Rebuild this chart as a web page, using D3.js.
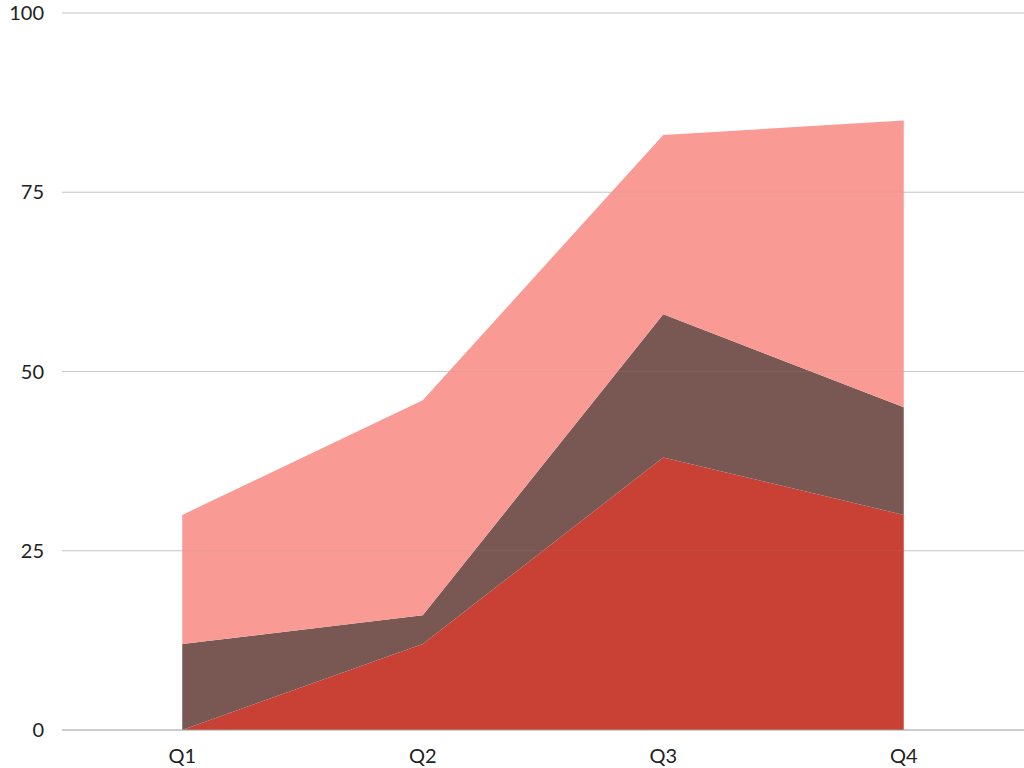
<!DOCTYPE html>
<html>
<head>
<meta charset="utf-8">
<script src="https://cdn.jsdelivr.net/npm/d3@7"></script>
<style>
  body{margin:0;background:#fff;}
  svg{display:block;font-family:Lato, "Open Sans", sans-serif;}
</style>
</head>
<body>
<svg id="chart" width="1024" height="768"></svg>
<script>
// quarters and stacked series values
const quarters = ["Q1","Q2","Q3","Q4"];
const seriesA = [0,12,38,30];   // bottom, red
const seriesB = [12,4,20,15];   // middle, brown
const seriesC = [18,30,25,40];  // top, pink
const yTicks = [0,25,50,75,100];

const colors = ["#c84134","#795853","#f99a94"];

const W=1024,H=768;
const margin={top:13,right:0,bottom:38,left:62};
const svg=d3.select("#chart");

const rows=quarters.map((q,i)=>({q:q,a:seriesA[i],b:seriesB[i],c:seriesC[i]}));
const stack=d3.stack().keys(["a","b","c"])(rows);

const x=d3.scaleBand().domain(quarters).range([margin.left,W-margin.right]);
const y=d3.scaleLinear().domain([0,100]).range([H-margin.bottom,margin.top]);
const cx=d=>x(d.data.q)+x.bandwidth()/2;

// grid under the areas
svg.append("g")
  .selectAll("line")
  .data(yTicks.filter(t=>t>0))
  .enter().append("line")
  .attr("x1",margin.left).attr("x2",W-margin.right)
  .attr("y1",d=>y(d)).attr("y2",d=>y(d))
  .attr("stroke","#cfcfcf").attr("stroke-width",1);

const area=d3.area().x(cx).y0(d=>y(d[0])).y1(d=>y(d[1]));
svg.append("g")
  .selectAll("path")
  .data(stack)
  .enter().append("path")
  .attr("d",area)
  .attr("fill",(d,i)=>colors[i]);

// faint grid showing through
svg.append("g")
  .selectAll("line")
  .data(yTicks.filter(t=>t>0))
  .enter().append("line")
  .attr("x1",margin.left).attr("x2",W-margin.right)
  .attr("y1",d=>y(d)).attr("y2",d=>y(d))
  .attr("stroke","#999").attr("stroke-opacity",0.15).attr("stroke-width",1);

// baseline
svg.append("line")
  .attr("x1",margin.left).attr("x2",W-margin.right)
  .attr("y1",y(0)).attr("y2",y(0))
  .attr("stroke","#9a9a9a").attr("stroke-width",1.2);

// y labels
svg.append("g")
  .selectAll("text")
  .data(yTicks)
  .enter().append("text")
  .attr("x",44).attr("y",d=>y(d))
  .attr("dy","0.35em")
  .attr("text-anchor","end")
  .attr("font-size",20)
  .attr("fill","#222")
  .text(d=>d);

// x labels
svg.append("g")
  .selectAll("text")
  .data(quarters)
  .enter().append("text")
  .attr("x",d=>x(d)+x.bandwidth()/2)
  .attr("y",756)
  .attr("dy","0.35em")
  .attr("text-anchor","middle")
  .attr("font-size",20)
  .attr("fill","#222")
  .text(d=>d);
</script>
</body>
</html>
